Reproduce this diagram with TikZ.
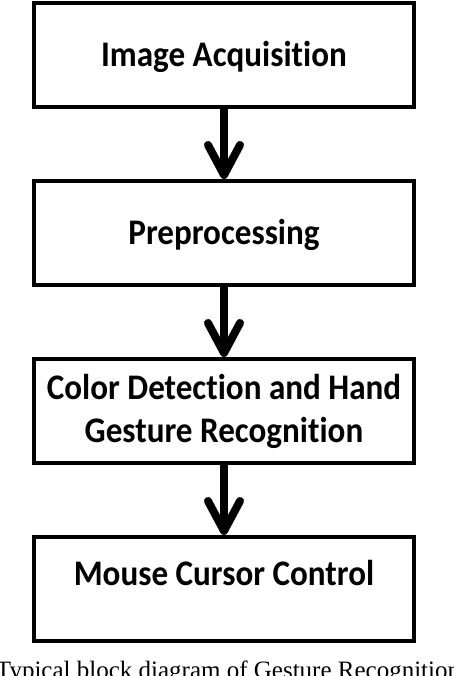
\documentclass[tikz,border=0pt]{standalone}
\usepackage{fontspec}
\setmainfont[FakeStretch=0.92,Ligatures=NoCommon]{Carlito}
\newfontfamily\capfont{Liberation Serif}
\usetikzlibrary{arrows.meta,positioning}
\begin{document}
\begin{tikzpicture}[x=1pt,y=-1pt]
\tikzstyle{every node}+=[inner sep=0pt]
\tikzstyle{block}=[draw=black,line width=4pt,minimum width=380pt,minimum height=104pt,align=center,font=\fontsize{36}{43}\selectfont\bfseries]
\tikzstyle{flow}=[line width=8pt,-{Straight Barb[length=30pt,width=32pt,round]}]
\useasboundingbox (0,0) rectangle (454,676);
\node [block,text height=23pt,text depth=0pt] (img) at (224,55) {Image Acquisition};
\node [block,text height=23pt,text depth=0pt] (prep) at (224,233) {Preprocessing};
\node [block] (detect) at (224,411) {Color Detection and Hand\\Gesture Recognition};
\node [block,text height=22pt,text depth=29pt] (mouse) at (224,589) {Mouse Cursor Control};
\draw [flow] (img) -- (prep);
\draw [flow] (prep) -- (detect);
\draw [flow] (detect) -- (mouse);
\node [font=\capfont\fontsize{25}{30}\selectfont,anchor=base] (cap) at (228,678) {Typical block diagram of Gesture Recognition};
\end{tikzpicture}
\end{document}
